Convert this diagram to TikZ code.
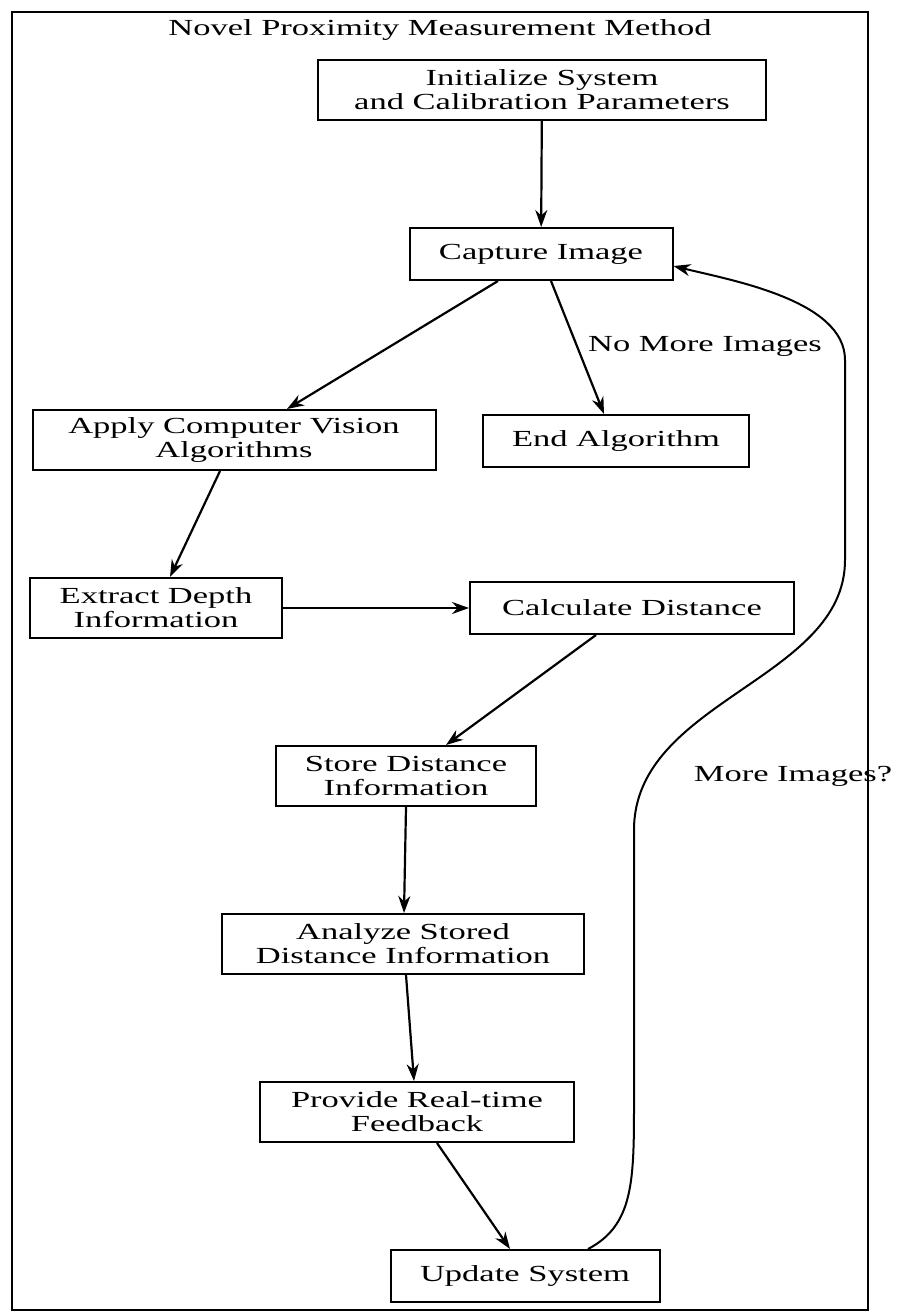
\documentclass[tikz,border=0pt]{standalone}
\usepackage{fontspec}
\usepackage{graphicx}
\setmainfont{Liberation Serif}
\usetikzlibrary{arrows.meta}
\newcommand{\bigfnt}{\fontsize{23pt}{24pt}\selectfont}
\newcommand{\wt}[1]{\scalebox{1.5}[1]{#1}}
\begin{document}
\begin{tikzpicture}[x=1pt,y=-1pt,
  box/.style={draw,line width=2pt,minimum height=52pt,align=center,inner sep=4pt,font=\bigfnt},
  arr/.style={line width=2.2pt,-{Stealth[length=17pt,width=12pt]}},
  lbl/.style={font=\bigfnt}]
\useasboundingbox (0,0) rectangle (902,1316);
\draw[line width=2pt] (12,12) rectangle (868,1310);
\node[lbl] (title) at (440,30) {\wt{Novel Proximity Measurement Method}};
\node[box,minimum width=448pt,minimum height=60pt] (init) at (542,90) {\wt{Initialize System}\\\wt{and Calibration Parameters}};
\node[box,minimum width=263pt] (cap) at (541,254) {\wt{Capture Image}};
\node[box,minimum width=403pt,minimum height=60pt] (cv) at (234,440) {\wt{Apply Computer Vision}\\\wt{Algorithms}};
\node[box,minimum width=266pt] (end) at (616,441) {\wt{End Algorithm}};
\node[box,minimum width=252pt,minimum height=60pt] (ext) at (156,608) {\wt{Extract Depth}\\\wt{Information}};
\node[box,minimum width=324pt] (calc) at (632,608) {\wt{Calculate Distance}};
\node[box,minimum width=260pt,minimum height=60pt] (store) at (406,776) {\wt{Store Distance}\\\wt{Information}};
\node[box,minimum width=362pt,minimum height=60pt] (ana) at (403,944) {\wt{Analyze Stored}\\\wt{Distance Information}};
\node[box,minimum width=314pt,minimum height=60pt] (prov) at (417,1112) {\wt{Provide Real-time}\\\wt{Feedback}};
\node[box,minimum width=269pt] (upd) at (525,1276) {\wt{Update System}};
\draw[arr] (init) -- (cap);
\draw[arr] (cap.south -| 498,0) -- (cv.north -| 287,0);
\draw[arr] (cap.south -| 551,0) -- (end.north -| 604,0);
\node[lbl] (nomore) at (705,346) {\wt{No More Images}};
\draw[arr] (cv.south -| 220,0) -- (ext.north -| 170,0);
\draw[line width=1.3pt,-{Stealth[length=17pt,width=12pt]}] (ext) -- (calc);
\draw[arr] (calc.south -| 596,0) -- (store.north -| 446,0);
\draw[arr] (store.south -| 406,0) -- (ana.north -| 404,0);
\draw[arr] (ana.south -| 406,0) -- (prov.north -| 414,0);
\draw[arr] (prov.south -| 437,0) -- (upd.north -| 510,0);
\draw[line width=2pt,-{Stealth[length=17pt,width=12pt]}] (upd.north -| 588,0) .. controls (634,1225) and (634,1180) .. (634,1100) -- (634,830) .. controls (634,700) and (845,680) .. (845,560) -- (845,360) .. controls (845,300) and (730,280) .. (cap.east |- 0,266);
\node[lbl] (more) at (793,776) {\wt{More Images?}};
\end{tikzpicture}
\end{document}
